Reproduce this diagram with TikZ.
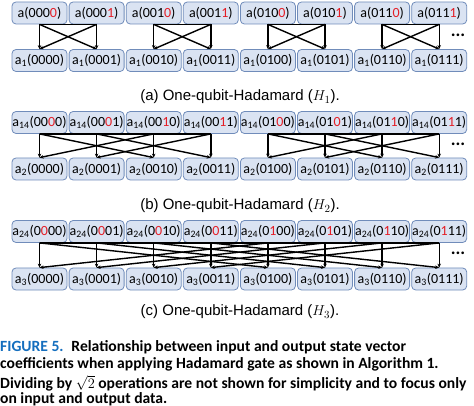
\documentclass[tikz,border=0pt]{standalone}
\usepackage{fontspec}
\setmainfont{Carlito}
\newfontfamily\subfont{Liberation Sans}
\usetikzlibrary{arrows.meta, positioning, calc}
\definecolor{boxfill}{RGB}{218,227,242}
\definecolor{boxline}{RGB}{112,140,186}
\definecolor{bitred}{RGB}{228,30,38}
\definecolor{figblue}{RGB}{20,110,190}
\newcommand{\rb}[1]{\textcolor{bitred}{#1}}

\begin{document}
\begin{tikzpicture}[x=1pt, y=-1pt,
		state/.style={draw=boxline, fill=boxfill, rectangle, rounded corners=4pt, line width=0.8pt,
			minimum width=55pt, minimum height=22pt, inner sep=0pt, font=\fontsize{14}{14}\selectfont},
		link/.style={-{Stealth[length=4pt, width=3.5pt]}, line width=1.4pt, black},
		topbar/.style={line width=1.4pt, black},
		more/.style={font=\fontsize{18}{18}\selectfont\bfseries, inner sep=0pt},
		subcap/.style={font=\subfont\fontsize{15}{15}\selectfont, inner sep=0pt},
		figcap/.style={font=\fontsize{15.6}{17}\selectfont\bfseries, inner sep=0pt, anchor=base west}
		]
		\useasboundingbox (0,0) rectangle (474,406);
		
		% --- State vector boxes ---
		\foreach \i/\ba/\bb/\bc/\bd in {0/0/0/0/0, 1/0/0/0/1, 2/0/0/1/0, 3/0/0/1/1,
			4/0/1/0/0, 5/0/1/0/1, 6/0/1/1/0, 7/0/1/1/1} {
			\node[state] (t1-\i) at (39.5+57.1*\i, 13) {a(\ba\bb\bc\rb{\bd})};
			\node[state] (b1-\i) at (39.5+57.1*\i, 60.5) {a\textsubscript{1}(\ba\bb\bc\bd)};
			\node[state] (t2-\i) at (39.5+57.1*\i, 122.5) {a\textsubscript{14}(\ba\bb\rb{\bc}\bd)};
			\node[state] (b2-\i) at (39.5+57.1*\i, 169) {a\textsubscript{2}(\ba\bb\bc\bd)};
			\node[state] (t3-\i) at (39.5+57.1*\i, 231.5) {a\textsubscript{24}(\ba\rb{\bb}\bc\bd)};
			\node[state] (b3-\i) at (39.5+57.1*\i, 279) {a\textsubscript{3}(\ba\bb\bc\bd)};
		}
		
		% --- H1: pairs one apart ---
		\foreach \i/\j in {0/1, 1/0, 2/3, 3/2, 4/5, 5/4, 6/7, 7/6} {
			\draw[link] (t1-\i.south) -- (b1-\i.north);
			\draw[link] (t1-\i.south) -- (b1-\j.north);
		}
		\foreach \i/\j in {0/1, 2/3, 4/5, 6/7}
			\draw[topbar] (t1-\i.south) -- (t1-\j.south);
		
		% --- H2: pairs two apart ---
		\foreach \i/\j in {0/2, 2/0, 1/3, 3/1, 4/6, 6/4, 5/7, 7/5} {
			\draw[link] (t2-\i.south) -- (b2-\i.north);
			\draw[link] (t2-\i.south) -- (b2-\j.north);
		}
		\foreach \i/\j in {0/3, 4/7}
			\draw[topbar] (t2-\i.south) -- (t2-\j.south);
		
		% --- H3: pairs four apart ---
		\foreach \i/\j in {0/4, 4/0, 1/5, 5/1, 2/6, 6/2, 3/7, 7/3} {
			\draw[link] (t3-\i.south) -- (b3-\i.north);
			\draw[link] (t3-\i.south) -- (b3-\j.north);
		}
		\draw[topbar] (t3-0.south) -- (t3-7.south);
		
		% --- Continuation dots ---
		\node[more] (dots1) at (458, 35) {...};
		\node[more] (dots2) at (458, 144) {...};
		\node[more] (dots3) at (458, 253) {...};
		
		% --- Sub captions ---
		\node[subcap] (capa) at (240, 97) {(a) One-qubit-Hadamard ($H_1$).};
		\node[subcap] (capb) at (240, 206) {(b) One-qubit-Hadamard ($H_2$).};
		\node[subcap] (capc) at (240, 312) {(c) One-qubit-Hadamard ($H_3$).};
		
		% --- Figure caption ---
		\node[figcap] (cap1) at (0, 351.5) {\textcolor{figblue}{FIGURE 5.}\enspace Relationship between input and output state vector};
		\node[figcap] (cap2) at (0, 368) {coefficients when applying Hadamard gate as shown in Algorithm 1.};
		\node[figcap] (cap3) at (0, 388) {Dividing by {\mdseries\fontsize{14}{14}\selectfont\smash{$\sqrt{2}$}} operations are not shown for simplicity and to focus only};
		\node[figcap] (cap4) at (0, 403) {on input and output data.};
		
	\end{tikzpicture}
\end{document}
